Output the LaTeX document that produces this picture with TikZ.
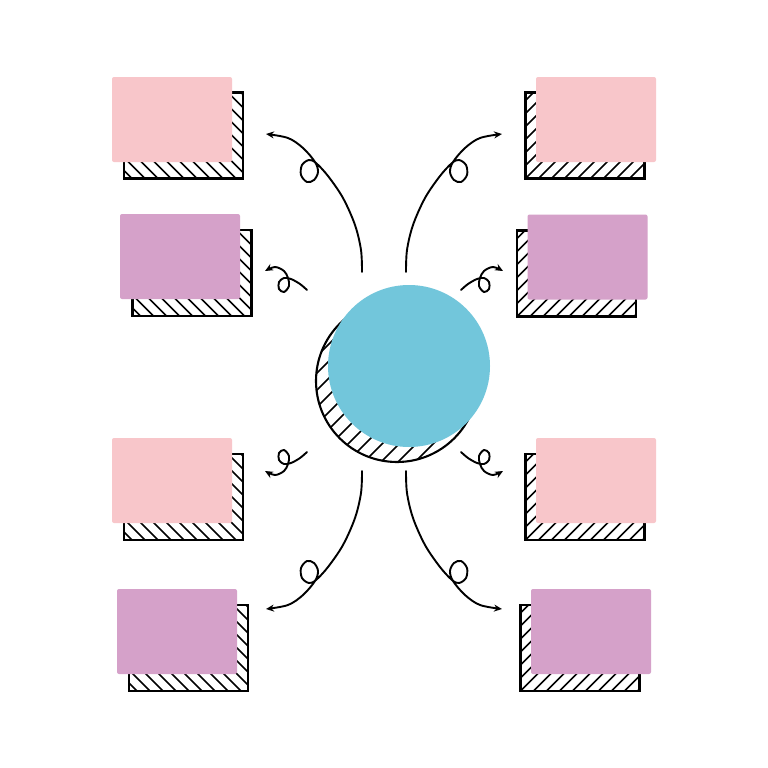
\documentclass[tikz,border=0pt]{standalone}
\usetikzlibrary{arrows.meta}
\definecolor{pinkc}{HTML}{F8C6CA}
\definecolor{purplec}{HTML}{D5A1C9}
\definecolor{bluec}{HTML}{72C6DB}
\tikzset{
  card/.style={minimum width=120pt, minimum height=85pt, inner sep=0pt, rounded corners=2pt},
  shadowbase/.style={draw=black, line width=2.1pt, fill=white, minimum width=119pt, minimum height=86pt, inner sep=0pt},
  shadowL/.style={shadowbase, path picture={
     \foreach \k in {0,...,26} \draw[line width=1.7pt] ([xshift=\k*13pt-130pt]path picture bounding box.north west) -- ++(200pt,-200pt);}},
  shadowR/.style={shadowbase, path picture={
     \foreach \k in {0,...,26} \draw[line width=1.7pt] ([xshift=\k*13pt-130pt]path picture bounding box.south west) -- ++(200pt,200pt);}},
  conn/.style={line width=1.9pt, line cap=round, -{Stealth[length=8pt,width=7pt]}},
}
\newcommand\bigconn[1]{%
  \coordinate (#1s) at (362,272);
  \coordinate (#1e) at (266,134);
  \draw[conn] plot[smooth,tension=0.55] coordinates {(#1s) (361,250) (355,225) (343,198) (328,176) (316,163) (309,160) (302,165) (301,175) (307,182) (314,180) (318,172) (315,162) (303,148) (288,138) (#1e)};}
\newcommand\smallconn[1]{%
  \coordinate (#1s) at (307,290);
  \coordinate (#1e) at (265,271);
  \draw[conn] plot[smooth,tension=0.55] coordinates {(#1s) (300,284) (291,279) (284,278) (279,282) (279,289) (284,292) (289,286) (288,278) (284,271) (275,267) (#1e)};}
\begin{document}
\begin{tikzpicture}[x=1pt,y=-1pt]
\fill[white] (0,0) rectangle (768,768);
\useasboundingbox (0,0) rectangle (768,768);
% left column
\node[shadowL] (sl1) at (183.5,135.5) {};
\node[card, fill=pinkc] (l1) at (172,119.5) {};
\node[shadowL] (sl2) at (192,273) {};
\node[card, fill=purplec] (l2) at (180,256.5) {};
\node[shadowL] (sl3) at (183.5,497) {};
\node[card, fill=pinkc] (l3) at (172,480.5) {};
\node[shadowL] (sl4) at (188.5,648) {};
\node[card, fill=purplec] (l4) at (177,631.5) {};
% right column
\node[shadowR] (sr1) at (585,135.5) {};
\node[card, fill=pinkc] (r1) at (596,119.5) {};
\node[shadowR] (sr2) at (576.5,273.5) {};
\node[card, fill=purplec] (r2) at (587.5,257) {};
\node[shadowR] (sr3) at (585,497) {};
\node[card, fill=pinkc] (r3) at (596,480.5) {};
\node[shadowR] (sr4) at (580,648) {};
\node[card, fill=purplec] (r4) at (591,631.5) {};
% centre
\node[circle, draw=black, line width=2.1pt, fill=white, minimum size=162pt, inner sep=0pt,
  path picture={\foreach \k in {0,...,22} \draw[line width=1.7pt] ([xshift=\k*17pt-190pt]path picture bounding box.south west) -- ++(250pt,250pt);}] (csh) at (397,381) {};
\node[circle, fill=bluec, minimum size=162pt, inner sep=0pt] (core) at (409,366) {};
% connectors
\bigconn{atl}
\smallconn{btl}
\begin{scope}[shift={(768,0)},xscale=-1]
\bigconn{atr}
\smallconn{btr}
\end{scope}
\begin{scope}[shift={(0,743)},yscale=-1]
\bigconn{abl}
\end{scope}
\begin{scope}[shift={(0,742)},yscale=-1]
\smallconn{bbl}
\end{scope}
\begin{scope}[shift={(768,743)},xscale=-1,yscale=-1]
\bigconn{abr}
\end{scope}
\begin{scope}[shift={(768,742)},xscale=-1,yscale=-1]
\smallconn{bbr}
\end{scope}
\end{tikzpicture}
\end{document}
